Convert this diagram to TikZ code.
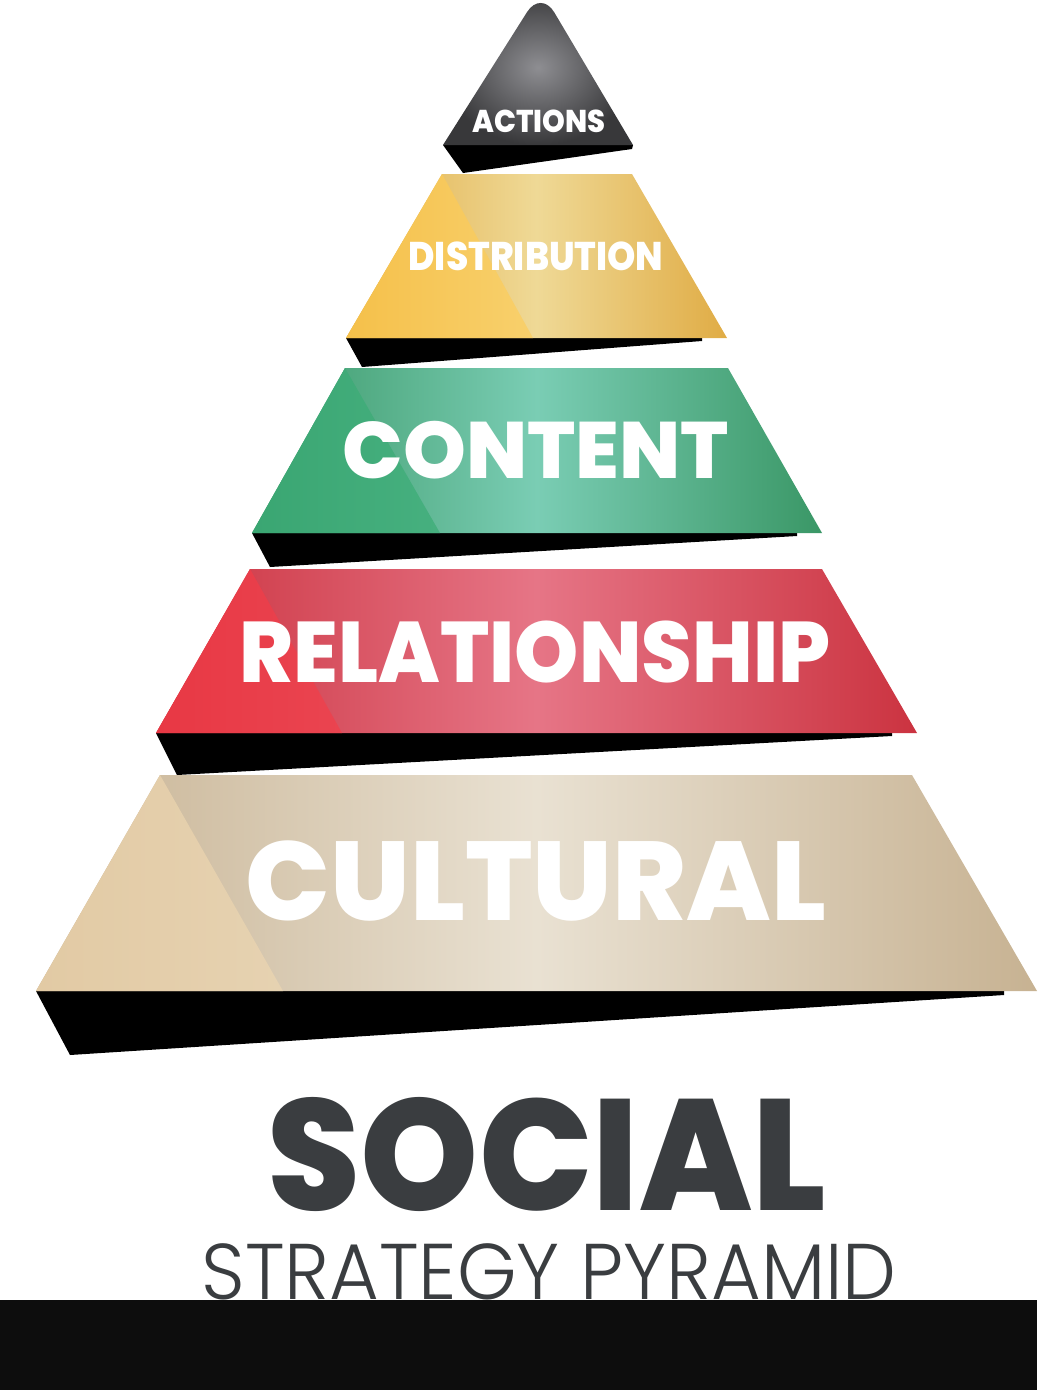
\documentclass[tikz,border=0pt]{standalone}
\usepackage{fontspec}
\usetikzlibrary{positioning}
\newfontfamily\heavyfont{Poppins ExtraBold}
\newfontfamily\lightfont{Poppins Light}
\newcommand\setfs[1]{\fontsize{#1}{#1}\selectfont}
\newcommand\squeeze[2]{\scalebox{#1}[1]{#2}}

\definecolor{actdark}{HTML}{38383A}
\definecolor{actlight}{HTML}{8E8E92}
\definecolor{yelside}{HTML}{F5C04A}
\definecolor{yelsidel}{HTML}{F8D06C}
\definecolor{yeledge}{HTML}{E0AC45}
\definecolor{yelmid}{HTML}{EFD996}
\definecolor{grnside}{HTML}{3AA672}
\definecolor{grnsidel}{HTML}{46B07F}
\definecolor{grnedge}{HTML}{3A9766}
\definecolor{grnmid}{HTML}{7ACDB4}
\definecolor{redside}{HTML}{E83844}
\definecolor{redsidel}{HTML}{EA4450}
\definecolor{rededge}{HTML}{CB3340}
\definecolor{redmid}{HTML}{E67586}
\definecolor{tanside}{HTML}{E2CAA4}
\definecolor{tansidel}{HTML}{E6D2B1}
\definecolor{tanedge}{HTML}{C7B292}
\definecolor{tanmid}{HTML}{E9E1D2}
\definecolor{titlegray}{HTML}{3A3D40}

\begin{document}
\begin{tikzpicture}[x=1pt,y=-1pt,
    side/.style={fill=black},
    lbl/.style={anchor=base,text=white,inner sep=0pt,text depth=0pt},
    title/.style={anchor=base,text=titlegray,inner sep=0pt,text depth=0pt}]
  \path[use as bounding box] (0,0) rectangle (1037,1390);

  % actions
  \fill[side] (443,145) -- (633,145) -- (632,149) -- (463,173) -- cycle;
  \shade[inner color=actlight,outer color=actdark]
    (443,145) [rounded corners=26] -- (541,-10) [sharp corners] -- (633,145) -- cycle;
  \node[lbl,font=\heavyfont\setfs{31.5}] (actions) at (539,132) {\squeeze{0.92}{ACTIONS}};

  % distribution
  \fill[side] (346,338) -- (702,338) -- (702,341) -- (362,367) -- cycle;
  \shade[left color=yeledge,right color=yeledge,middle color=yelmid]
    (442,174) -- (632,174) -- (727,338) -- (346,338) -- cycle;
  \shade[left color=yelside,right color=yelsidel]
    (442,174) -- (533,338) -- (346,338) -- cycle;
  \node[lbl,font=\heavyfont\setfs{40}] (distribution) at (536,270) {\squeeze{0.9}{DISTRIBUTION}};

  % content
  \fill[side] (252,533) -- (797,533) -- (797,536) -- (270,567) -- cycle;
  \shade[left color=grnedge,right color=grnedge,middle color=grnmid]
    (345,368) -- (728,368) -- (822,533) -- (252,533) -- cycle;
  \shade[left color=grnside,right color=grnsidel]
    (345,368) -- (440,533) -- (252,533) -- cycle;
  \node[lbl,font=\heavyfont\setfs{80}] (content) at (536,478) {CONTENT};

  % relationship
  \fill[side] (156,733) -- (892,733) -- (892,736) -- (177,775) -- cycle;
  \shade[left color=rededge,right color=rededge,middle color=redmid]
    (250,569) -- (822,569) -- (917,733) -- (156,733) -- cycle;
  \shade[left color=redside,right color=redsidel]
    (250,569) -- (342,733) -- (156,733) -- cycle;
  \node[lbl,font=\heavyfont\setfs{86}] (relationship) at (535,682) {\squeeze{0.95}{RELATIONSHIP}};

  % cultural
  \fill[side] (36,991) -- (1004,991) -- (1004,995) -- (70,1055) -- cycle;
  \shade[left color=tanedge,right color=tanedge,middle color=tanmid]
    (160,775) -- (912,775) -- (1037,991) -- (36,991) -- cycle;
  \shade[left color=tanside,right color=tansidel]
    (160,775) -- (283,991) -- (36,991) -- cycle;
  \node[lbl,font=\heavyfont\setfs{112}] (cultural) at (536,920) {CULTURAL};

  \node[title,font=\heavyfont\setfs{158},text height=110pt] (social) at (547,1210) {\squeeze{0.95}{SOCIAL}};
  \node[title,font=\lightfont\setfs{79},text height=55pt] (strategy) at (549,1299) {\squeeze{0.965}{STRATEGY PYRAMID}};

  \fill[black!95] (0,1300) rectangle (1037,1390);
\end{tikzpicture}
\end{document}
